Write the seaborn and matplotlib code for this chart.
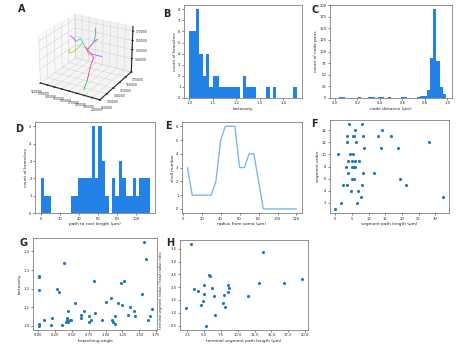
import numpy as np
import pandas as pd
import matplotlib
matplotlib.use('Agg')
import matplotlib.pyplot as plt
import seaborn as sns

# ---- data ----
# B: tortuosity histogram (32 bins, 1.0 .. 1.456)
b_counts = [6, 6, 8, 4, 2, 4, 1, 2, 2, 1, 1, 1, 1, 1, 1, 0, 2, 1, 1, 1, 0, 0, 0, 1, 0, 1, 0, 0, 0, 0, 0, 1]
b_range = (1.0, 1.456)

# C: node distance histogram (34 bins, 0.005 .. 0.991)
c_counts = [0, 2, 1, 0, 0, 0, 0, 1, 0, 0, 1, 2, 0, 1, 2, 0, 1, 0, 0, 0, 3, 1, 0, 0, 0, 2, 4, 5, 17, 87, 191, 80, 24, 8]
c_range = (0.005, 0.991)

# D: path to root length histogram (32 bins, 0 .. 113.7)
d_counts = [2, 1, 1, 0, 0, 0, 0, 0, 0, 1, 1, 2, 2, 2, 2, 5, 2, 5, 3, 1, 0, 2, 1, 3, 2, 1, 1, 2, 1, 2, 2, 2]
d_range = (0.0, 113.7)

# E: sholl analysis
e_radius = [5, 10, 15, 20, 25, 30, 35, 40, 45, 50, 55, 60, 65, 70, 75, 80, 85, 90, 95, 100, 105, 110, 115, 120]
e_sholl = [3, 1, 1, 1, 1, 1, 2, 5, 6, 6, 6, 3, 3, 4, 4, 2, 0, 0, 0, 0, 0, 0, 0, 0]

# F: segment path length vs segment order
f_len = [0.0, 0.9, 1.7, 2.2, 3.1, 3.4, 3.5, 3.6, 3.7, 3.9, 4.2, 4.4, 4.8, 4.9, 5.0, 5.0, 5.2, 5.4,
         5.5, 5.5, 5.7, 5.8, 5.9, 6.0, 6.3, 6.5, 6.9, 7.2, 7.6, 7.9, 8.0, 8.3, 8.4, 8.5, 11.5,
         12.9, 13.6, 14.1, 16.6, 18.9, 19.4, 21.2, 28.1, 32.5]
f_order = [1, 10, 2, 5, 8, 5, 13, 12, 7, 9, 15, 10, 4, 9, 8, 6, 10, 13, 8, 6, 13, 14, 8, 9, 12, 2,
           4, 9, 3, 5, 15, 7, 13, 11, 7, 13, 11, 14, 13, 11, 6, 5, 12, 3]

# G: branching angle vs tortuosity
g_angle = [0.01, 0.01, 0.01, 0.01, 0.01, 0.085, 0.185, 0.2, 0.285, 0.315, 0.35, 0.385, 0.415, 0.425,
           0.435, 0.445, 0.45, 0.47, 0.485, 0.545, 0.635, 0.64, 0.675, 0.75, 0.76, 0.785, 0.835,
           0.845, 0.945, 1.0, 1.075, 1.1, 1.11, 1.135, 1.145, 1.185, 1.225, 1.24, 1.275, 1.335,
           1.365, 1.425, 1.435, 1.54, 1.575, 1.605, 1.625, 1.655, 1.685]
g_tort = [1.01, 1.0, 1.27, 1.26, 1.19, 1.03, 1.005, 1.04, 1.20, 1.18, 1.005, 1.34, 1.02, 1.03,
          1.04, 1.08, 1.02, 1.03, 1.03, 1.12, 1.06, 1.04, 1.08, 1.02, 1.05, 1.03, 1.24, 1.07,
          1.03, 1.13, 1.15, 1.03, 1.02, 1.01, 1.05, 1.12, 1.23, 1.11, 1.24, 1.06, 1.10, 1.08,
          1.05, 1.17, 1.45, 1.36, 1.03, 1.05, 1.09]

# H: terminal segment path length vs ratio
h_len = [2.3, 3.06, 3.57, 4.08, 4.54, 4.85, 4.95, 5.05, 5.3, 5.8, 5.87, 6.12, 6.43, 6.6, 7.86,
         8.0, 8.16, 8.5, 8.5, 8.7, 11.5, 13.16, 13.8, 16.84, 19.6]
h_ratio = [1.18, 3.68, 1.92, 1.87, 1.30, 1.48, 1.74, 2.10, 0.49, 2.46, 2.42, 1.95, 1.66, 0.91,
           1.40, 1.71, 1.21, 2.09, 1.83, 1.95, 1.64, 2.18, 3.38, 2.18, 2.33]

# A: neuron branches (x, y, z) in stage coordinates
branches = {
    '#d040c0': [(165000, 150000, 145000), (163000, 148000, 150000), (160000, 146000, 155000), (158000, 145000, 158000)],
    '#e04080': [(170000, 135000, 130000), (168000, 140000, 136000), (166000, 145000, 141000), (165000, 150000, 145000)],
    '#30c040': [(172000, 128000, 124000), (171000, 131000, 127000), (170000, 135000, 130000)],
    '#40d0d0': [(158000, 145000, 158000), (150000, 150000, 159000), (145000, 152000, 161000), (140000, 150000, 158000)],
    '#90e040': [(150000, 150000, 159000), (148000, 145000, 155000), (146000, 140000, 153000)],
    '#e0d020': [(146000, 140000, 153000), (142000, 138000, 152000), (140000, 142000, 154000)],
    '#f08020': [(158000, 145000, 158000), (163000, 142000, 157000), (168000, 140000, 154000)],
    '#8060e0': [(160000, 146000, 155000), (165000, 150000, 162000), (170000, 150000, 166000)],
    '#909090': [(165000, 150000, 162000), (163000, 155000, 168000), (160000, 158000, 172000)],
    '#b060f0': [(163000, 148000, 150000), (168000, 152000, 147000), (172000, 155000, 145000)],
    '#e050e0': [(140000, 150000, 158000), (135000, 152000, 160000), (132000, 150000, 163000)],
}

sns.set_style('white')
plt.rcParams['font.family'] = ['DejaVu Sans']

bar_color = '#2282e6'
dot_color = '#1f77b4'
line_color = '#7db8e8'
tick_fs = 2.7
lab_fs = 3.1

fig = plt.figure(figsize=(4.74, 3.51), dpi=100)


def style(ax):
    ax.tick_params(labelsize=tick_fs, length=1.5, width=0.4, pad=1, bottom=True, left=True)
    for s in ax.spines.values():
        s.set_linewidth(0.5)
        s.set_color('#666666')


def hist(ax, counts, rng):
    n = len(counts)
    step = (rng[1] - rng[0]) / n
    centers = rng[0] + step * (np.arange(n) + 0.5)
    df = pd.DataFrame({'x': centers, 'w': counts})
    sns.histplot(data=df, x='x', weights='w', bins=n, binrange=rng, ax=ax, color=bar_color,
                 alpha=1, linewidth=0, edgecolor=bar_color)


# A
axA = fig.add_axes([0.05, 0.69, 0.26, 0.30], projection='3d')
for col, pts in branches.items():
    pts = np.array(pts)
    axA.plot(pts[:, 0], pts[:, 1], pts[:, 2], color=col, lw=0.6)
axA.set_xlim(120000, 200000)
axA.set_ylim(120000, 170000)
axA.set_zlim(125000, 175000)
axA.set_zticks([140000, 150000, 160000, 170000])
axA.set_yticks([120000, 130000, 140000, 150000, 160000, 170000])
axA.set_xticks(np.arange(120000, 200001, 10000))
axA.tick_params(labelsize=2.2, pad=-4)
for a in (axA.xaxis, axA.yaxis, axA.zaxis):
    a._axinfo['grid']['linewidth'] = 0.3
    a._axinfo['axisline']['linewidth'] = 0.3
axA.view_init(elev=25, azim=-60)

# B
axB = fig.add_axes([0.388, 0.721, 0.249, 0.265])
hist(axB, b_counts, b_range)
axB.set_xticks([1.0, 1.1, 1.2, 1.3, 1.4])
axB.set_yticks(range(0, 9))
axB.set_xlabel('tortuosity', fontsize=lab_fs, labelpad=1)
axB.set_ylabel('count of branches', fontsize=lab_fs, labelpad=1)
style(axB)

# C
axC = fig.add_axes([0.696, 0.721, 0.257, 0.265])
hist(axC, c_counts, c_range)
axC.set_xticks([0.0, 0.2, 0.4, 0.6, 0.8, 1.0])
axC.set_yticks(range(0, 201, 25))
axC.set_xlabel('node distance (μm)', fontsize=lab_fs, labelpad=1)
axC.set_ylabel('count of node pairs', fontsize=lab_fs, labelpad=1)
style(axC)

# D
axD = fig.add_axes([0.074, 0.393, 0.253, 0.259])
hist(axD, d_counts, d_range)
axD.set_xticks([0, 20, 40, 60, 80, 100])
axD.set_yticks(range(0, 6))
axD.set_xlabel('path to root length (μm)', fontsize=lab_fs, labelpad=1)
axD.set_ylabel('count of branches', fontsize=lab_fs, labelpad=1)
style(axD)

# E
axE = fig.add_axes([0.384, 0.393, 0.253, 0.259])
sns.lineplot(x=e_radius, y=e_sholl, ax=axE, color=line_color, lw=1)
axE.set_xticks([0, 20, 40, 60, 80, 100, 120])
axE.set_yticks(range(0, 7))
axE.set_xlabel('radius from soma (μm)', fontsize=lab_fs, labelpad=1)
axE.set_ylabel('sholl number', fontsize=lab_fs, labelpad=1)
style(axE)

# F
axF = fig.add_axes([0.696, 0.393, 0.251, 0.265])
sns.scatterplot(x=f_len, y=f_order, ax=axF, color=dot_color, s=5, linewidth=0)
axF.set_xticks([0, 5, 10, 15, 20, 25, 30])
axF.set_yticks([2, 4, 6, 8, 10, 12, 14])
axF.set_xlabel('segment path length (μm)', fontsize=lab_fs, labelpad=1)
axF.set_ylabel('segment order', fontsize=lab_fs, labelpad=1)
style(axF)

# G
axG = fig.add_axes([0.070, 0.060, 0.262, 0.262])
sns.scatterplot(x=g_angle, y=g_tort, ax=axG, color=dot_color, s=5, linewidth=0)
axG.set_xticks([0.0, 0.25, 0.5, 0.75, 1.0, 1.25, 1.5, 1.75])
axG.set_xticklabels(['0.00', '0.25', '0.50', '0.75', '1.00', '1.25', '1.50', '1.75'])
axG.set_yticks([1.0, 1.1, 1.2, 1.3, 1.4])
axG.set_xlabel('branching angle', fontsize=lab_fs, labelpad=1)
axG.set_ylabel('tortuosity', fontsize=lab_fs, labelpad=1)
style(axG)

# H
axH = fig.add_axes([0.380, 0.060, 0.270, 0.256])
sns.scatterplot(x=h_len, y=h_ratio, ax=axH, color=dot_color, s=5, linewidth=0)
axH.set_xticks([2.5, 5.0, 7.5, 10.0, 12.5, 15.0, 17.5, 20.0])
axH.set_yticks([0.5, 1.0, 1.5, 2.0, 2.5, 3.0, 3.5])
axH.set_xlabel('terminal segment path length (μm)', fontsize=lab_fs, labelpad=1)
axH.set_ylabel('terminal segment radius / head radius ratio', fontsize=2.5)
axH.yaxis.set_label_coords(-0.13, 0.44)
style(axH)

# panel letters
letters = {'A': (22, 9), 'B': (167, 14), 'C': (315, 10), 'D': (19, 129),
           'E': (168, 126), 'F': (314, 124), 'G': (23, 243), 'H': (170, 243)}
for k, (px, py) in letters.items():
    fig.text(px / 474, 1 - py / 351, k, fontsize=7, fontweight='bold', ha='center', va='center')

fig.savefig('out.png', dpi=100)
